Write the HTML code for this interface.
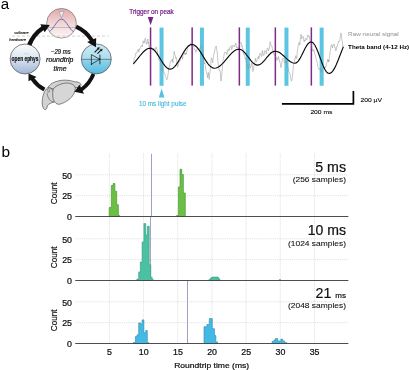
<!DOCTYPE html>
<html lang="en"><head><meta charset="utf-8"><title>Closed-loop roundtrip latency</title>
<style>html,body{margin:0;padding:0;background:#fff}body{width:409px;height:370px;overflow:hidden}svg{display:block}text{font-family:"Liberation Sans",Arial,Helvetica,sans-serif}</style>
</head><body>
<svg width="409" height="370" viewBox="0 0 409 370">
<defs>
<linearGradient id="gp" x1="0" y1="0" x2="0" y2="1"><stop offset="0" stop-color="#e3a9a9"/><stop offset="0.55" stop-color="#f3d9d9"/><stop offset="1" stop-color="#fdf6f6"/></linearGradient>
<linearGradient id="gb" x1="0" y1="0" x2="0" y2="1"><stop offset="0" stop-color="#fbfcfe"/><stop offset="0.45" stop-color="#dfe7f2"/><stop offset="1" stop-color="#9db4d6"/></linearGradient>
<linearGradient id="gc" x1="0" y1="0" x2="0" y2="1"><stop offset="0" stop-color="#cfeaf5"/><stop offset="0.5" stop-color="#abddef"/><stop offset="0.52" stop-color="#94d4eb"/><stop offset="1" stop-color="#55bae1"/></linearGradient>
</defs>
<rect width="409" height="370" fill="#fff"/>
<text transform="translate(0.7 9.3) scale(1.08 1)" font-size="14" fill="#000">a</text>
<text transform="translate(1.5 156.5) scale(1.1 1)" font-size="14" fill="#000">b</text>
<g id="loop">
<circle cx="61.5" cy="23.25" r="14.85" fill="url(#gp)" stroke="#555" stroke-width="0.55"/>
<circle cx="25.1" cy="59" r="15" fill="url(#gb)" stroke="#333" stroke-width="0.6"/>
<circle cx="96.3" cy="58.9" r="15" fill="url(#gc)" stroke="#333" stroke-width="0.6"/>
<line x1="12" y1="36.1" x2="108.5" y2="36.1" stroke="#c6c6c6" stroke-width="0.8" stroke-dasharray="3 2"/>
<path d="M29.3 44.9A35.5 35.5 0 0 1 42.5 28.25L44.33 27.41" fill="none" stroke="#111" stroke-width="4.4"/><path d="M49.8 24.9L40.3 24.2L44.7 32.3Z" fill="#111"/>
<path d="M76.1 26.6A35.5 35.5 0 0 1 91.6 40L92.7 41.8" fill="none" stroke="#111" stroke-width="4.2"/><path d="M96 47.2L87.2 42.1L96.2 37.9Z" fill="#111"/>
<path d="M44.4 89.6A35.5 35.5 0 0 1 32.55 79.05L31.54 77.64" fill="none" stroke="#111" stroke-width="4"/><path d="M28.5 73.4L36.6 76.9L28.5 81.2Z" fill="#111"/>
<text x="14.2" y="33.6" font-size="4.2" font-style="italic" fill="#111" stroke="#111" stroke-width="0.12" textLength="14.4" lengthAdjust="spacingAndGlyphs">software</text>
<text x="9.2" y="41.4" font-size="4.2" font-style="italic" fill="#111" stroke="#111" stroke-width="0.12" textLength="16.8" lengthAdjust="spacingAndGlyphs">hardware</text>
<line x1="47.2" y1="27.5" x2="75.9" y2="27.5" stroke="#8a7e7e" stroke-width="0.4"/>
<clipPath id="ctop"><circle cx="61.5" cy="23.25" r="14.6"/></clipPath>
<path clip-path="url(#ctop)" d="M47.9 32C52.8 32 56.5 19.1 61.4 19.1C66.3 19.1 70 32 74.9 32" fill="none" stroke="#3450b4" stroke-width="0.75"/>
<path d="M59 11.4L64 11.4L61.5 17.9Z" fill="#ececec" stroke="#8a8a8a" stroke-width="0.5"/>
<line x1="24.3" y1="53.7" x2="28.6" y2="53.7" stroke="#aab2c0" stroke-width="0.4"/>
<text x="11.6" y="61.1" font-size="7.2" font-weight="bold" fill="#111" stroke="#111" stroke-width="0.2" textLength="26.8" lengthAdjust="spacingAndGlyphs">open ephys</text>
<line x1="81.5" y1="59.3" x2="111.1" y2="59.3" stroke="#222" stroke-width="0.45"/>
<path d="M91.4 54.6L91.4 64.3L99.7 59.3Z" fill="none" stroke="#111" stroke-width="0.7"/>
<line x1="99.9" y1="54.6" x2="99.9" y2="64.3" stroke="#111" stroke-width="0.8"/>
<circle cx="99.6" cy="59.3" r="0.8" fill="#111"/><circle cx="91.4" cy="64.3" r="0.65" fill="#111"/>
<path d="M94.6 52.3L98.2 48.6M97.4 53.7L101.1 50.2" fill="none" stroke="#111" stroke-width="1.05"/>
<path d="M99.5 47.3L98.9 49.7L97.1 47.9ZM102.4 48.9L101.8 51.3L100 49.5Z" fill="#111" stroke="#111" stroke-width="0.3"/>
<text x="60.8" y="53.8" font-size="6.6" font-style="italic" fill="#111" stroke="#111" stroke-width="0.2" text-anchor="middle" textLength="19.6" lengthAdjust="spacingAndGlyphs">~29 ms</text>
<text x="59.7" y="62.2" font-size="6.6" font-style="italic" fill="#111" stroke="#111" stroke-width="0.2" text-anchor="middle" textLength="27.2" lengthAdjust="spacingAndGlyphs">roundtrip</text>
<text x="60.1" y="70.6" font-size="6.6" font-style="italic" fill="#111" stroke="#111" stroke-width="0.2" text-anchor="middle" textLength="13" lengthAdjust="spacingAndGlyphs">time</text>
<g stroke="#3a3a3a" stroke-width="0.6" fill="#d2d2d2" stroke-linejoin="round">
<path d="M48.1 87.3C48.9 85.9 49.8 84.9 50.8 84.1C52.1 83.1 53.5 82.4 55.1 81.9C57.1 81.2 59.3 80.6 61.5 80.3C63.7 80.1 65.9 80.1 68 80.3C69.9 80.5 71.7 80.9 73.3 81.4L75.5 81.9C76.4 81.8 77.4 81.9 78.2 82.2C79.2 82.6 80.1 83.1 80.6 83.7C81.1 84.3 81.2 85.1 80.9 85.7C80.5 86.5 79.7 87 78.7 87.3C77.9 87.5 76.9 87.6 76 87.6L60 96L50 92Z"/>
<path d="M48.1 87.3C46.8 88.3 45.7 89.6 44.8 91.1C44 92.6 43.4 94.2 43 95.9C42.6 97.7 42.3 99.5 42.2 101.3C42.1 103.2 42.3 105 42.7 106.6C43.1 107.9 43.7 108.9 44.5 109.5C45.3 109.9 46 109.6 46.5 108.8C47 107.8 47.2 106.7 47.5 105.6C48.2 104.6 49.2 103.9 50.2 103.4C51.4 102.8 52.7 102.4 54 102L57 101L56 90Z"/>
<path d="M52.7 93.2C52.6 91.6 52.8 90.2 53.4 88.9C54.2 87.5 55.6 86.5 57.2 85.7C59.2 84.6 61.4 83.8 63.7 83.3C65.9 82.9 68.1 82.9 70.1 83.5C71.8 83.9 73.2 84.6 74.2 85.7C74.9 86.5 75.3 87.4 75.3 88.4C75.3 90.2 74.8 92 73.9 93.7C72.9 95.5 71.6 97.1 70.1 98.6C68.5 100 66.7 101.3 64.7 102.3C63.1 103.1 61.5 103.8 59.9 104.2C58.5 104.4 57.2 104.2 56.1 103.4C54.9 102.5 54 101.2 53.4 99.7C52.8 97.6 52.7 95.4 52.7 93.2Z" fill="#d6d6d6"/>
<ellipse cx="48.6" cy="90.4" rx="0.9" ry="1.9" fill="#e2e2e2" stroke-width="0.45" transform="rotate(-12 48.6 90.4)"/>
<path d="M50.6 88.2C51.4 88.8 52.2 89.6 53 90.6M47.2 92.6C46.8 94 47.4 96 49.1 99.1C50.3 100.6 52 101.6 54 102" fill="none" stroke-width="0.5"/>
</g>
<path d="M93.5 74A35.5 35.5 0 0 1 81.8 89.3L79.95 89.92" fill="none" stroke="#111" stroke-width="3.8"/><path d="M74.4 91.8L79.5 84.8L84 93.8Z" fill="#111"/>
</g>
</g>
</g>
<g id="signal">
<rect x="159.55" y="27.6" width="4" height="58.2" fill="#5cc6e2"/>
<rect x="199.95" y="27.6" width="4" height="58.2" fill="#5cc6e2"/>
<rect x="245.75" y="27.6" width="4" height="58.2" fill="#5cc6e2"/>
<rect x="284.45" y="27.6" width="4" height="58.2" fill="#5cc6e2"/>
<rect x="319.65" y="27.6" width="4" height="58.2" fill="#5cc6e2"/>
<rect x="149.8" y="27.4" width="1.5" height="58.2" fill="#82288a"/>
<rect x="191.4" y="27.4" width="1.5" height="58.2" fill="#82288a"/>
<rect x="238.6" y="27.4" width="1.5" height="58.2" fill="#82288a"/>
<rect x="274.6" y="27.4" width="1.5" height="58.2" fill="#82288a"/>
<rect x="310.6" y="27.4" width="1.5" height="58.2" fill="#82288a"/>
<path d="M133.5 64.5 133.81 61.63 134.13 58.76 134.4 58.3 135 57.36 135.59 53.51 136.1 53.9 136.73 52.82 137.36 50.91 137.9 50.4 138.22 49.26 138.53 51.69 138.8 52.2 139.4 48.81 139.99 48.85 140.5 47.8 141.13 45.76 141.76 45.53 142.3 46.9 143.2 40.8 143.62 41.09 144.04 43.3 144.4 42.5 144.75 39.49 145.1 38.38 145.4 38.2 145.85 40.84 146.31 44.26 146.7 44.3 147.12 42.75 147.54 40.18 147.9 39 148.25 43.36 148.6 42.09 148.9 46 149.35 47.75 149.81 45.79 150.2 46.9 150.79 46.42 151.39 47.26 151.9 49.6 152.53 48.52 153.16 50.23 153.7 48.7 154.12 48.33 154.54 50.85 154.9 51.3 155.39 50.32 155.88 47.71 156.3 46.9 156.79 49.54 157.28 50.05 157.7 53.9 158.12 54.27 158.54 56.99 158.9 60 159.35 60.44 159.81 59.15 160.2 59.2 160.69 62.45 161.18 67.52 161.6 70.6 162.09 69.19 162.58 67.35 163 67.1 163.42 70.41 163.84 72.17 164.2 73.2 164.83 73.72 165.46 76.58 166 77.6 166.42 78.02 166.84 79.73 167.2 78.5 167.55 77.88 167.9 74.57 168.2 74.1 168.9 67.1 169.53 67.17 170.16 61.86 170.7 61.8 171.19 60.56 171.68 61.01 172.1 59.2 172.41 59.03 172.73 61.61 173 62.7 173.42 56.87 173.84 55.39 174.2 51.3 174.59 53.9 174.97 54.67 175.3 55.7 175.72 58.43 176.14 57.4 176.5 59.2 176.92 62.75 177.34 65.11 177.7 67.1 178.19 65.56 178.68 63.21 179.1 61.8 179.59 61.65 180.08 60.57 180.5 57.5 180.96 56.77 181.41 56.9 181.8 55.7 182.6 59.2 183.09 54.68 183.58 54.48 184 51.3 184.46 52.52 184.91 54.53 185.3 53.1 185.69 54.67 186.07 52.8 186.4 53.9 186.82 51.31 187.24 50.3 187.6 47.8 188.23 45.26 188.86 46.39 189.4 46 190 44.08 190.59 43.28 191.1 44.3 191.73 43.45 192.36 47.19 192.9 46.9 193.5 46.36 194.09 47.78 194.6 49.6 195.23 49.76 195.86 52.28 196.4 51.3 197.03 48.71 197.66 49.28 198.2 48.7 198.79 48.58 199.39 49.6 199.9 47.8 200.32 48.17 200.74 47.44 201.1 45.2 201.59 46.45 202.08 49.13 202.5 51.3 202.99 53.82 203.48 59 203.9 60.1 204.35 63.79 204.81 62.41 205.2 65.4 206 70.6 206.53 71.75 207.05 74.43 207.5 77.6 208.3 72.4 209.2 79.4 209.62 74.66 210.04 71.99 210.4 68.9 210.72 65.55 211.03 60.53 211.3 58.3 211.79 57.86 212.28 61.06 212.7 62.7 213.12 58.82 213.54 56.25 213.9 53.1 214.35 53.06 214.81 50.15 215.2 47.8 215.55 47.23 215.9 47.01 216.2 46 216.66 50.1 217.11 51.01 217.5 55.7 217.92 61.29 218.34 64.8 218.7 67.1 219.19 69.82 219.68 70.74 220.1 70.6 220.41 73.84 220.73 77.55 221 81.1 221.8 74.1 222.7 64.5 223.12 59.83 223.54 58.88 223.9 55.7 224.43 53.04 224.95 52.15 225.4 53.1 225.89 52.53 226.38 52.94 226.8 54.8 227.22 52.94 227.64 50.56 228 51.3 228.42 48.99 228.84 49.28 229.2 50.4 229.69 47.58 230.18 47.4 230.6 46.9 231.09 45.63 231.58 49.66 232 48.7 232.42 48.25 232.84 45.47 233.2 46.1 233.69 45.39 234.18 46.05 234.6 46.9 235.06 45.13 235.51 42.94 235.9 43.4 236.32 46.02 236.74 47.82 237.1 46.9 237.59 47.39 238.08 48.1 238.5 48.7 239.13 45.19 239.76 43.4 240.3 43.4 240.69 42.77 241.07 42.46 241.4 43.4 241.82 46.57 242.24 45.76 242.6 48.7 243.06 48.61 243.51 54.14 243.9 53.9 244.25 55.27 244.6 55.01 244.9 57.5 245.32 58.9 245.74 58.06 246.1 61 246.56 62.93 247.01 66.55 247.4 66.2 247.75 68.6 248.1 68.87 248.4 68.9 248.72 66.09 249.03 64.66 249.3 63.6 249.72 63.81 250.14 67.77 250.5 68 250.99 66.28 251.48 65.41 251.9 62.7 252.22 65.1 252.53 67.75 252.8 71.5 253.22 70.61 253.64 69.17 254 65.4 254.49 64.33 254.98 61.65 255.4 58.3 255.85 60.8 256.31 61.71 256.7 61.8 257.12 58.89 257.54 58.23 257.9 56.6 258.25 56.93 258.6 56.54 258.9 59.2 259.35 55.18 259.81 54.05 260.2 53.1 260.62 53.36 261.04 56.32 261.4 56.6 261.78 56.26 262.17 52.05 262.5 50.4 262.92 53.69 263.34 55.43 263.7 54.8 264.12 55.08 264.54 51.18 264.9 50.4 265.39 50.51 265.88 51.76 266.3 53.9 266.79 50.55 267.28 48.45 267.7 47.8 268.12 48.93 268.54 50.66 268.9 49.6 269.35 48.2 269.81 43.99 270.2 41.7 270.69 43.85 271.18 45.98 271.6 46.1 272.09 46.26 272.58 50.38 273 51.3 273.42 53.85 273.84 54.25 274.2 53.9 274.83 56.16 275.46 56.33 276 57.5 276.42 57.12 276.84 60.48 277.2 60.1 277.69 58.21 278.18 58.85 278.6 56.6 279.09 60.62 279.58 60.45 280 62.7 280.42 63.85 280.84 67.57 281.2 67.1 281.65 65.23 282.11 60.25 282.5 59.2 282.99 58.02 283.48 58.43 283.9 60.1 284.39 62.63 284.88 63.15 285.3 62.7 285.72 60.69 286.14 62.82 286.5 61 286.92 65.06 287.34 65.9 287.7 67.1 288.19 68.36 288.68 71 289.1 72.4 289.59 72.74 290.08 74.1 290.5 77.6 291.4 81.1 291.82 80.85 292.24 77.43 292.6 75 293.5 65.4 293.92 63.34 294.34 62.79 294.7 59.2 295.08 57.71 295.47 58.24 295.8 55.7 296.6 58.3 296.95 56.56 297.3 51.05 297.6 49.6 298.06 46.12 298.51 43.8 298.9 42.5 299.25 42.41 299.6 44.74 299.9 45.2 300.21 40.53 300.53 37.46 300.8 34.6 301.22 34.38 301.64 38.76 302 38.2 302.42 36.99 302.84 36.77 303.2 36.4 303.58 38.59 303.97 41.73 304.3 41.7 304.72 40.16 305.14 40.92 305.5 38.2 305.95 38.8 306.41 39.52 306.8 39.9 307.15 38.45 307.5 34.89 307.8 35.5 308.22 35.89 308.64 35.49 309 37.3 309.49 36.54 309.98 40.95 310.4 40.8 310.85 40.71 311.31 43.14 311.7 44.3 312.12 47.65 312.54 49.43 312.9 51.3 313.25 50.01 313.6 50.18 313.9 49.6 314.35 51.64 314.81 54.38 315.2 54.8 315.62 55.08 316.04 58.75 316.4 60.1 316.89 61.23 317.38 63.48 317.8 66.2 318.29 68.51 318.78 68.68 319.2 69.7 319.62 69.35 320.04 69.55 320.4 68 320.71 71.19 321.03 70.85 321.3 72.4 321.79 71.63 322.28 69.97 322.7 68.9 323.12 68.32 323.54 68.41 323.9 67.1 324.35 67.22 324.81 67.86 325.2 68 325.69 66.06 326.18 66.06 326.6 62.7 327.02 62.27 327.44 61.76 327.8 59.2 328.19 61.88 328.57 60.06 328.9 61.8 329.32 58.36 329.74 56.22 330.1 51.3 330.52 50.52 330.94 45.58 331.3 45.2 331.69 44.6 332.07 46.79 332.4 47.8 332.82 45.18 333.24 44.94 333.6 45.2 334.09 44.09 334.58 47.07 335 46.9 335.42 49.26 335.84 50.94 336.2 50.4 336.65 46.88 337.11 46.99 337.5 44.3 337.99 44.03 338.48 41.05 338.9 41.7 339.39 41.38 339.88 39.86 340.3 36.4 341.1 32.9 342 40.8 342.42 41.81 342.84 46.88 343.2 46.9" fill="none" stroke="#909090" stroke-width="0.5" stroke-linejoin="round"/>
<path d="M133.4 63.8 135.05 61.96 136.7 59.95 138.35 57.84 140 55.75 141.65 53.77 143.3 51.98 144.95 50.48 146.6 49.31 148.25 48.55 149.9 48.21 151.55 48.41 153.2 49.29 154.85 50.82 156.5 52.88 158.15 55.34 159.8 58.03 161.45 60.77 163.1 63.36 164.75 65.64 166.4 67.44 168.05 68.65 169.7 69.18 171.35 69 173 68.14 174.65 66.64 176.3 64.59 177.95 62.11 179.6 59.32 181.25 56.41 182.9 53.51 184.55 50.8 186.2 48.44 187.85 46.54 189.5 45.23 191.15 44.57 192.8 44.59 194.45 45.24 196.1 46.48 197.75 48.24 199.4 50.42 201.05 52.92 202.7 55.61 204.35 58.33 206 60.94 207.65 63.32 209.3 65.32 210.95 66.85 212.6 67.83 214.25 68.2 215.9 68.03 217.55 67.45 219.2 66.48 220.85 65.18 222.5 63.59 224.15 61.78 225.8 59.85 227.45 57.86 229.1 55.9 230.75 54.07 232.4 52.45 234.05 51.09 235.7 50.07 237.35 49.43 239 49.2 240.65 49.48 242.3 50.36 243.95 51.77 245.6 53.61 247.25 55.73 248.9 57.96 250.55 60.13 252.2 62.06 253.85 63.61 255.5 64.64 257.15 65.09 258.8 64.91 260.45 64.16 262.1 62.89 263.75 61.21 265.4 59.26 267.05 57.22 268.7 55.26 270.35 53.55 272 52.24 273.65 51.43 275.3 51.2 276.95 51.45 278.6 52.09 280.25 53.08 281.9 54.34 283.55 55.79 285.2 57.34 286.85 58.88 288.5 60.31 290.15 61.53 291.8 62.45 293.45 63.02 295.1 63.2 296.75 62.59 298.4 60.94 300.05 58.43 301.7 55.32 303.35 51.93 305 48.59 306.65 45.67 308.3 43.45 309.95 42.17 311.6 41.96 313.25 43 314.9 45.25 316.55 48.52 318.2 52.56 319.85 57.01 321.5 61.52 323.15 65.72 324.8 69.26 326.45 71.84 328.1 73.26 329.75 73.42 331.4 72.52 333.05 70.65 334.7 67.92 336.35 64.49 338 60.54 339.65 56.3 341.3 52 342.95 47.87 343.4 46.81" fill="none" stroke="#0a0a0a" stroke-width="1.15" stroke-linejoin="round"/>
<path d="M147.8 16.9L153.4 16.9L150.6 25.3Z" fill="#76228a"/>
<text x="129.3" y="13.5" font-size="6.6" fill="#76228a" stroke="#76228a" stroke-width="0.22" textLength="44.5" lengthAdjust="spacingAndGlyphs">Trigger on peak</text>
<path d="M161.6 88.6L164.4 97.4L158.8 97.4Z" fill="#52c2e2"/>
<text x="139" y="106.2" font-size="6.5" fill="#3bb5dc" stroke="#3bb5dc" stroke-width="0.1" textLength="47.5" lengthAdjust="spacingAndGlyphs">10 ms light pulse</text>
<text x="348.1" y="35.5" font-size="6.2" fill="#a4a4a4" stroke="#a4a4a4" stroke-width="0.1" textLength="50.6" lengthAdjust="spacingAndGlyphs">Raw neural signal</text>
<text x="348.1" y="49.4" font-size="6.2" font-weight="bold" fill="#000" textLength="61" lengthAdjust="spacingAndGlyphs">Theta band (4-12 Hz)</text>
<path d="M281.9 103.9L353.4 103.9L353.4 91" fill="none" stroke="#000" stroke-width="1.7" stroke-linejoin="miter" stroke-linecap="butt"/>
<text x="360.4" y="101.6" font-size="6.2" fill="#000" stroke="#000" stroke-width="0.1" textLength="21.5" lengthAdjust="spacingAndGlyphs">200 µV</text>
<text x="310.4" y="114.4" font-size="6.2" fill="#000" stroke="#000" stroke-width="0.1" textLength="22" lengthAdjust="spacingAndGlyphs">200 ms</text>
</g>
<g id="hist">
<line x1="75.5" y1="195.65" x2="348.2" y2="195.65" stroke="#c4c4c4" stroke-width="0.5" stroke-dasharray="1.2 0.9"/>
<line x1="75.5" y1="174.8" x2="348.2" y2="174.8" stroke="#c4c4c4" stroke-width="0.5" stroke-dasharray="1.2 0.9"/>
<line x1="75.5" y1="259.65" x2="348.2" y2="259.65" stroke="#c4c4c4" stroke-width="0.5" stroke-dasharray="1.2 0.9"/>
<line x1="75.5" y1="238.8" x2="348.2" y2="238.8" stroke="#c4c4c4" stroke-width="0.5" stroke-dasharray="1.2 0.9"/>
<line x1="75.5" y1="322.65" x2="348.2" y2="322.65" stroke="#c4c4c4" stroke-width="0.5" stroke-dasharray="1.2 0.9"/>
<line x1="75.5" y1="301.8" x2="348.2" y2="301.8" stroke="#c4c4c4" stroke-width="0.5" stroke-dasharray="1.2 0.9"/>
<line x1="109.38" y1="153.5" x2="109.38" y2="343.5" stroke="#c4c4c4" stroke-width="0.5" stroke-dasharray="1.2 0.9"/>
<line x1="143.55" y1="153.5" x2="143.55" y2="343.5" stroke="#c4c4c4" stroke-width="0.5" stroke-dasharray="1.2 0.9"/>
<line x1="177.73" y1="153.5" x2="177.73" y2="343.5" stroke="#c4c4c4" stroke-width="0.5" stroke-dasharray="1.2 0.9"/>
<line x1="211.9" y1="153.5" x2="211.9" y2="343.5" stroke="#c4c4c4" stroke-width="0.5" stroke-dasharray="1.2 0.9"/>
<line x1="246.07" y1="153.5" x2="246.07" y2="343.5" stroke="#c4c4c4" stroke-width="0.5" stroke-dasharray="1.2 0.9"/>
<line x1="280.25" y1="153.5" x2="280.25" y2="343.5" stroke="#c4c4c4" stroke-width="0.5" stroke-dasharray="1.2 0.9"/>
<line x1="314.43" y1="153.5" x2="314.43" y2="343.5" stroke="#c4c4c4" stroke-width="0.5" stroke-dasharray="1.2 0.9"/>
<line x1="151.5" y1="153.8" x2="151.5" y2="216.5" stroke="#a0a0c6" stroke-width="1"/>
<line x1="150.45" y1="216.5" x2="150.45" y2="280.5" stroke="#a0a0c6" stroke-width="1"/>
<line x1="187.5" y1="280.5" x2="187.5" y2="343.5" stroke="#a0a0c6" stroke-width="1"/>
<path d="M109.2 216.5L109.2 207.6L111.3 207.6L111.3 185.5L113.1 185.5L113.1 183.5L114.9 183.5L114.9 191.2L116.7 191.2L116.7 204.7L118.4 204.7L118.4 215.5L119.8 215.5L119.8 216.5Z" fill="#6bbf45" stroke="#3f8f2c" stroke-width="0.6" stroke-linejoin="miter"/>
<path d="M176.6 216.5L176.6 215.5L178.4 215.5L178.4 186.9L180 186.9L180 169.3L181.8 169.3L181.8 174.5L183.4 174.5L183.4 193L185.3 193L185.3 216.5Z" fill="#6bbf45" stroke="#3f8f2c" stroke-width="0.6" stroke-linejoin="miter"/>
<path d="M136.9 280.5L136.9 279.1L138.7 279.1L138.7 271.9L140.3 271.9L140.3 262L142.1 262L142.1 241.9L143.9 241.9L143.9 223.6L145.7 223.6L145.7 235L147.3 235L147.3 226.2L149.2 226.2L149.2 264.7L150.8 264.7L150.8 277.3L152.2 277.3L152.2 279.5L153.3 279.5L153.3 280.5Z" fill="#4cc1a1" stroke="#2d9a7e" stroke-width="0.6" stroke-linejoin="miter"/>
<path d="M209.1 280.5L209.1 279.3L210.6 279.3L210.6 277.9L211.8 277.9L211.8 277.1L218.2 277.1L218.2 278.1L219.2 278.1L219.2 279.5L220 279.5L220 280.5Z" fill="#4cc1a1" stroke="#2d9a7e" stroke-width="0.6" stroke-linejoin="miter"/>
<path d="M279.4 280.5L279.4 279.6L280.6 279.6L280.6 280.5Z" fill="#6bbf45" stroke="#3f8f2c" stroke-width="0.6" stroke-linejoin="miter"/>
<path d="M133.3 343.5L133.3 342.5L135.4 342.5L135.4 336.5L137 336.5L137 334.8L138.7 334.8L138.7 322.9L140.8 322.9L140.8 324.5L142.1 324.5L142.1 319.9L143.9 319.9L143.9 332.7L145.7 332.7L145.7 330.5L147.3 330.5L147.3 342.5L148.6 342.5L148.6 343.5Z" fill="#45b9e6" stroke="#2f8aa8" stroke-width="0.6" stroke-linejoin="miter"/>
<path d="M204 343.5L204 326.7L206.9 326.7L206.9 324.5L209.3 324.5L209.3 318.6L212.3 318.6L212.3 328.7L214.5 328.7L214.5 335.6L215.9 335.6L215.9 341.9L217.5 341.9L217.5 343.5Z" fill="#45b9e6" stroke="#2f8aa8" stroke-width="0.6" stroke-linejoin="miter"/>
<path d="M272.1 343.5L272.1 341.5L273.9 341.5L273.9 340L275.4 340L275.4 338.5L277.7 338.5L277.7 340.9L280.9 340.9L280.9 339.1L282.7 339.1L282.7 340.9L284.5 340.9L284.5 342.6L286.8 342.6L286.8 343.5Z" fill="#45b9e6" stroke="#2f8aa8" stroke-width="0.6" stroke-linejoin="miter"/>
<line x1="75.2" y1="216.5" x2="348.4" y2="216.5" stroke="#444" stroke-width="0.95"/>
<line x1="75.2" y1="280.5" x2="348.4" y2="280.5" stroke="#444" stroke-width="0.95"/>
<line x1="75.2" y1="343.5" x2="348.4" y2="343.5" stroke="#444" stroke-width="0.95"/>
<text transform="translate(72 219.65) scale(1.08 1)" font-size="8.2" fill="#111" stroke="#111" stroke-width="0.22" text-anchor="end">0</text>
<text transform="translate(72 199.25) scale(1.08 1)" font-size="8.2" fill="#111" stroke="#111" stroke-width="0.22" text-anchor="end">25</text>
<text transform="translate(72 179.05) scale(1.08 1)" font-size="8.2" fill="#111" stroke="#111" stroke-width="0.22" text-anchor="end">50</text>
<text transform="translate(57.2 193.3) rotate(-90) scale(0.9 1)" font-size="9.1" fill="#111" stroke="#111" stroke-width="0.2" text-anchor="middle">Count</text>
<text transform="translate(72 283.65) scale(1.08 1)" font-size="8.2" fill="#111" stroke="#111" stroke-width="0.22" text-anchor="end">0</text>
<text transform="translate(72 263.25) scale(1.08 1)" font-size="8.2" fill="#111" stroke="#111" stroke-width="0.22" text-anchor="end">25</text>
<text transform="translate(72 243.05) scale(1.08 1)" font-size="8.2" fill="#111" stroke="#111" stroke-width="0.22" text-anchor="end">50</text>
<text transform="translate(57.2 257.3) rotate(-90) scale(0.9 1)" font-size="9.1" fill="#111" stroke="#111" stroke-width="0.2" text-anchor="middle">Count</text>
<text transform="translate(72 346.65) scale(1.08 1)" font-size="8.2" fill="#111" stroke="#111" stroke-width="0.22" text-anchor="end">0</text>
<text transform="translate(72 326.25) scale(1.08 1)" font-size="8.2" fill="#111" stroke="#111" stroke-width="0.22" text-anchor="end">25</text>
<text transform="translate(72 306.05) scale(1.08 1)" font-size="8.2" fill="#111" stroke="#111" stroke-width="0.22" text-anchor="end">50</text>
<text transform="translate(57.2 320.3) rotate(-90) scale(0.9 1)" font-size="9.1" fill="#111" stroke="#111" stroke-width="0.2" text-anchor="middle">Count</text>
<text transform="translate(109.58 355) scale(1.08 1)" font-size="8.2" fill="#111" stroke="#111" stroke-width="0.22" text-anchor="middle">5</text>
<text transform="translate(143.75 355) scale(1.08 1)" font-size="8.2" fill="#111" stroke="#111" stroke-width="0.22" text-anchor="middle">10</text>
<text transform="translate(177.93 355) scale(1.08 1)" font-size="8.2" fill="#111" stroke="#111" stroke-width="0.22" text-anchor="middle">15</text>
<text transform="translate(212.1 355) scale(1.08 1)" font-size="8.2" fill="#111" stroke="#111" stroke-width="0.22" text-anchor="middle">20</text>
<text transform="translate(246.27 355) scale(1.08 1)" font-size="8.2" fill="#111" stroke="#111" stroke-width="0.22" text-anchor="middle">25</text>
<text transform="translate(280.45 355) scale(1.08 1)" font-size="8.2" fill="#111" stroke="#111" stroke-width="0.22" text-anchor="middle">30</text>
<text transform="translate(314.62 355) scale(1.08 1)" font-size="8.2" fill="#111" stroke="#111" stroke-width="0.22" text-anchor="middle">35</text>
<text transform="translate(174.2 368.1) scale(1.07 1)" font-size="8" fill="#111" stroke="#111" stroke-width="0.22" text-anchor="start">Roundtrip time (ms)</text>
<text transform="translate(346 171.8) scale(1.03 1)" font-size="13.8" fill="#111" stroke="#111" stroke-width="0.22" text-anchor="end">5 ms</text>
<text transform="translate(346 182) scale(1.04 1)" font-size="8.1" fill="#111" stroke="#111" stroke-width="0.08" text-anchor="end">(256 samples)</text>
<text transform="translate(346 235.2) scale(1.02 1)" font-size="13.8" fill="#111" stroke="#111" stroke-width="0.22" text-anchor="end">10 ms</text>
<text transform="translate(346 245.8) scale(1.04 1)" font-size="8.1" fill="#111" stroke="#111" stroke-width="0.08" text-anchor="end">(1024 samples)</text>
<text transform="translate(346 297.5) scale(1.03 1)" fill="#111" stroke="#111" stroke-width="0.2" text-anchor="end"><tspan font-size="13.8">21 </tspan><tspan font-size="7.8">ms</tspan></text>
<text transform="translate(346 308.4) scale(1.04 1)" font-size="8.1" fill="#111" stroke="#111" stroke-width="0.08" text-anchor="end">(2048 samples)</text>
</g>
</svg>
</body></html>
